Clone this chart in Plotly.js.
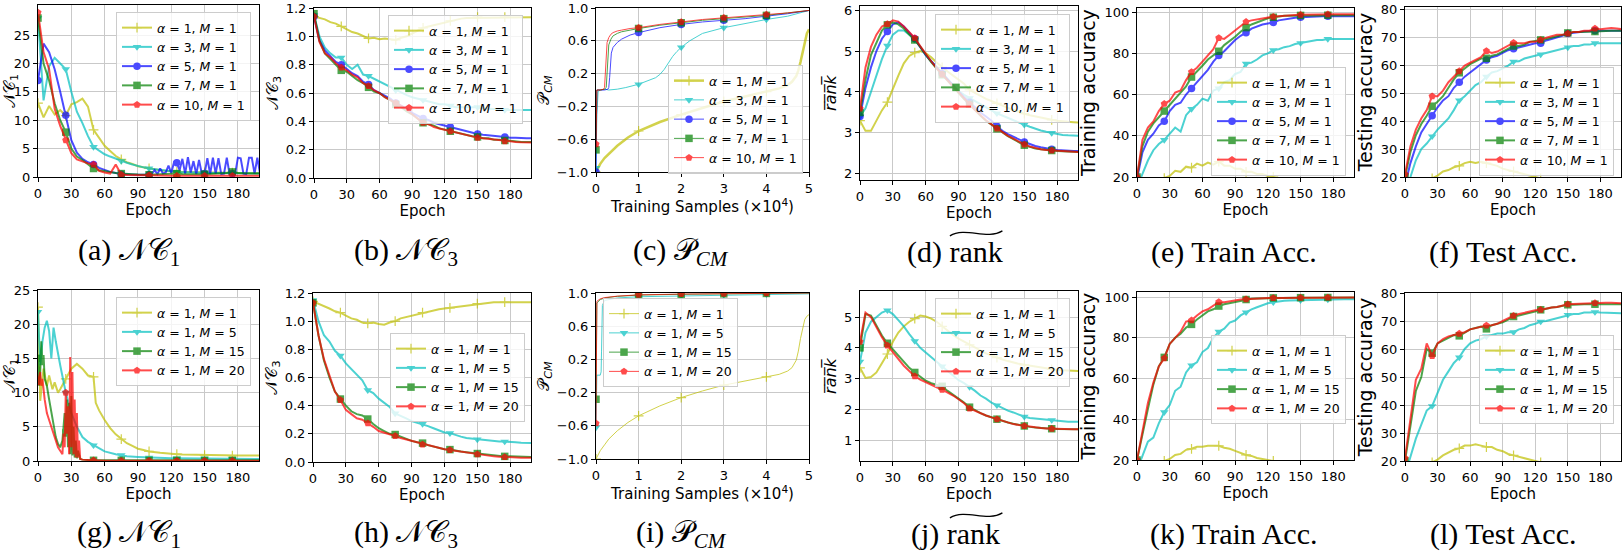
<!DOCTYPE html>
<html><head><meta charset="utf-8">
<script src="https://cdn.plot.ly/plotly-3.0.1.min.js"></script>
<style>html,body{margin:0;padding:0;background:#fff;}#chart{width:1623px;height:558px;}</style>
</head><body><div id="chart"></div>
<script>
// ---------------- DATA ----------------
const EPOCH = [0,5,10,15,20,25,30,35,40,45,50,55,60,65,70,75,80,85,90,95,100,105,110,115,120,125,130,135,140,145,150,155,160,165,170,175,180,185,190,195,200];
const EPOCH_TICKS = [0,30,60,90,120,150,180];
const SAMPLE_TICKS = [0,1,2,3,4,5];

const LEG_TOP = ['<i>α</i> = 1, <i>M</i> = 1','<i>α</i> = 3, <i>M</i> = 1','<i>α</i> = 5, <i>M</i> = 1','<i>α</i> = 7, <i>M</i> = 1','<i>α</i> = 10, <i>M</i> = 1'];
const LEG_BOT = ['<i>α</i> = 1, <i>M</i> = 1','<i>α</i> = 1, <i>M</i> = 5','<i>α</i> = 1, <i>M</i> = 15','<i>α</i> = 1, <i>M</i> = 20'];

// (a) NC1
const A_Y1 = [13.0,10.5,12.5,11.0,11.8,10.8,12.8,13.2,13.8,12.4,8.3,6.8,5.5,4.6,3.7,3.1,2.6,2.3,1.9,1.7,1.5,1.3,1.2,1.1,1.0,0.95,0.9,0.9,0.85,0.85,0.8,0.8,0.8,0.75,0.75,0.75,0.7,0.7,0.7,0.7,0.7];
const A_Y3 = [28.0,13.5,19.5,21.0,20.0,19.0,15.0,11.5,9.5,7.2,5.3,4.6,4.0,3.6,3.2,2.8,2.5,2.2,1.9,1.7,1.5,1.35,1.2,1.1,1.0,0.9,0.85,0.8,0.8,0.75,0.75,0.7,0.7,0.7,0.65,0.65,0.65,0.6,0.6,0.6,0.6];
const A_X5 = [0,5,10,15,20,25,30,35,40,45,50,55,60,65,70,75,80,85,90,95,100,102.5,105,107.5,110,112.5,115,117.5,120,122.5,125,127.5,130,132.5,135,137.5,140,142.5,145,147.5,150,152.5,155,157.5,160,162.5,165,167.5,170,172.5,175,177.5,180,182.5,185,187.5,190,192.5,195,197.5,200];
const A_Y5 = [17.0,23.5,22.0,19.0,15.0,10.9,6.5,4.3,3.2,2.6,2.2,1.6,1.2,0.9,0.7,0.5,0.5,0.4,0.4,0.4,0.4,
  0.6,1.2,0.5,1.5,0.6,0.8,2.0,0.7,2.6,2.5,1.2,3.2,0.6,3.5,0.8,2.8,0.5,3.0,0.6,0.6,3.3,0.5,3.4,0.6,3.3,0.5,0.6,3.4,0.5,0.6,0.5,3.4,3.3,0.6,0.5,3.4,3.4,0.6,3.4,0.5];
const A_Y7 = [28.0,20.0,17.0,13.0,10.0,7.9,5.0,3.6,3.0,2.3,1.5,1.2,1.0,0.8,0.7,0.6,0.5,0.5,0.45,0.4,0.4,0.45,0.5,0.5,0.55,0.6,0.55,0.5,0.5,0.5,0.5,0.55,0.6,0.6,0.7,0.9,0.7,0.65,0.6,0.6,0.6];
const A_Y10 = [29.0,22.0,19.0,12.0,9.0,6.5,4.2,3.1,2.7,2.4,2.2,1.1,0.8,0.6,2.2,0.4,0.35,0.3,0.3,0.3,0.3,0.25,0.25,0.25,0.2,0.2,0.2,0.2,0.2,0.2,0.2,0.2,0.2,0.2,0.2,0.2,0.2,0.2,0.2,0.2,0.2];
const A_TICKS = [0,5,10,15,20,25];

// (b) NC3
const B_Y1 = [1.14,1.13,1.12,1.10,1.09,1.07,1.05,1.03,1.02,1.0,0.985,0.99,0.98,0.985,0.98,0.975,0.99,1.0,1.02,1.04,1.06,1.07,1.08,1.09,1.1,1.11,1.12,1.125,1.13,1.13,1.135,1.135,1.135,1.135,1.135,1.135,1.135,1.135,1.135,1.135,1.135];
const B_Y3 = [1.15,1.0,0.92,0.88,0.85,0.85,0.80,0.77,0.80,0.73,0.72,0.70,0.68,0.66,0.64,0.62,0.60,0.585,0.57,0.56,0.55,0.54,0.53,0.52,0.52,0.51,0.50,0.50,0.50,0.50,0.50,0.49,0.49,0.49,0.485,0.48,0.48,0.48,0.48,0.48,0.48];
const B_Y5 = [1.14,0.97,0.90,0.86,0.82,0.80,0.77,0.74,0.72,0.68,0.66,0.62,0.60,0.58,0.56,0.53,0.51,0.49,0.46,0.44,0.42,0.41,0.39,0.38,0.37,0.36,0.345,0.335,0.33,0.32,0.31,0.305,0.30,0.295,0.29,0.29,0.285,0.285,0.28,0.28,0.28];
const B_Y7 = [1.16,0.97,0.88,0.84,0.80,0.76,0.75,0.72,0.69,0.67,0.64,0.61,0.60,0.57,0.55,0.52,0.50,0.47,0.45,0.42,0.39,0.38,0.37,0.35,0.34,0.33,0.32,0.31,0.30,0.295,0.29,0.28,0.28,0.27,0.27,0.265,0.26,0.26,0.255,0.255,0.255];
const B_Y10 = [1.14,0.96,0.88,0.85,0.81,0.78,0.76,0.73,0.71,0.67,0.65,0.62,0.60,0.57,0.55,0.53,0.51,0.48,0.45,0.42,0.39,0.38,0.36,0.35,0.34,0.33,0.32,0.31,0.30,0.29,0.285,0.28,0.275,0.27,0.265,0.26,0.258,0.255,0.252,0.25,0.25];
const B_TICKS = [0,0.2,0.4,0.6,0.8,1.0,1.2];

// (c) P_CM
const C_X1 = [0,0.05,0.1,0.2,0.3,0.5,0.75,1,1.5,2,2.5,3,3.5,4,4.3,4.5,4.6,4.7,4.75,4.8,4.85,4.9,4.95,5];
const C_Y1 = [-1.0,-0.95,-0.9,-0.83,-0.78,-0.68,-0.58,-0.5,-0.39,-0.3,-0.22,-0.14,-0.08,-0.02,0.02,0.06,0.1,0.17,0.24,0.34,0.46,0.6,0.69,0.74];
const C_X3 = [0,0.02,0.05,0.1,0.2,0.3,0.5,0.7,1,1.2,1.4,1.5,1.6,1.7,1.8,1.9,2,2.2,2.5,3,3.5,4,4.5,5];
const C_Y3 = [-0.95,-0.3,-0.02,0.0,0.01,0.0,0.01,0.03,0.07,0.11,0.15,0.19,0.25,0.33,0.41,0.47,0.52,0.6,0.69,0.76,0.81,0.86,0.9,0.97];
const C_X5 = [0,0.01,0.02,0.1,0.2,0.28,0.3,0.32,0.34,0.36,0.4,0.5,0.6,0.8,1,1.5,2,2.5,3,3.5,4,4.5,5];
const C_Y5 = [-1.0,-0.4,0.0,0.0,0.0,0.01,0.03,0.15,0.35,0.45,0.52,0.58,0.62,0.67,0.70,0.76,0.80,0.83,0.85,0.87,0.90,0.93,0.97];
const C_X7 = [0,0.01,0.02,0.1,0.2,0.24,0.26,0.28,0.3,0.35,0.4,0.5,0.6,0.8,1,1.5,2,2.5,3,3.5,4,4.5,5];
const C_Y7 = [-0.73,-0.3,0.0,0.0,0.01,0.03,0.2,0.45,0.55,0.62,0.66,0.69,0.71,0.73,0.75,0.79,0.82,0.85,0.87,0.89,0.91,0.94,0.97];
const C_X10 = [0,0.01,0.02,0.1,0.18,0.2,0.22,0.24,0.26,0.3,0.35,0.4,0.5,0.6,0.8,1,1.5,2,2.5,3,3.5,4,4.5,5];
const C_Y10 = [-0.66,-0.3,0.0,0.0,0.01,0.03,0.2,0.45,0.58,0.64,0.68,0.7,0.72,0.73,0.75,0.76,0.8,0.83,0.86,0.88,0.9,0.92,0.94,0.97];
const PCM_TICKS = [-1.0,-0.6,-0.2,0.2,0.6,1.0];

// (d) rank
const D_Y1 = [3.30,3.05,3.05,3.30,3.55,3.75,4.10,4.40,4.70,4.88,4.96,5.00,4.95,4.85,4.72,4.60,4.50,4.40,4.30,4.20,4.05,3.97,3.90,3.83,3.78,3.72,3.66,3.61,3.56,3.51,3.47,3.43,3.40,3.37,3.34,3.32,3.30,3.28,3.27,3.26,3.25];
const D_Y3 = [3.40,3.60,4.00,4.40,4.80,5.13,5.40,5.50,5.50,5.40,5.28,5.10,4.90,4.75,4.60,4.45,4.30,4.15,4.02,3.93,3.85,3.77,3.70,3.62,3.55,3.48,3.42,3.36,3.30,3.25,3.20,3.15,3.10,3.06,3.03,3.00,2.97,2.95,2.94,2.93,2.93];
const D_Y5 = [3.40,4.10,4.60,5.00,5.30,5.48,5.65,5.70,5.60,5.45,5.30,5.10,4.90,4.75,4.60,4.45,4.30,4.15,4.00,3.87,3.75,3.62,3.50,3.40,3.30,3.16,3.05,2.97,2.90,2.84,2.78,2.73,2.68,2.65,2.62,2.60,2.58,2.57,2.57,2.56,2.56];
const D_Y7 = [3.50,4.30,4.90,5.20,5.50,5.64,5.70,5.65,5.55,5.40,5.27,5.10,4.90,4.73,4.57,4.42,4.27,4.12,3.97,3.83,3.70,3.55,3.42,3.30,3.20,3.10,3.00,2.92,2.85,2.77,2.70,2.66,2.62,2.60,2.58,2.57,2.56,2.55,2.54,2.53,2.53];
const D_Y10 = [3.60,4.60,5.10,5.40,5.60,5.66,5.75,5.72,5.60,5.45,5.32,5.12,4.92,4.75,4.58,4.43,4.28,4.13,3.98,3.84,3.70,3.56,3.43,3.31,3.21,3.11,3.01,2.93,2.86,2.78,2.72,2.67,2.63,2.60,2.58,2.57,2.56,2.55,2.54,2.53,2.53];
const D_TICKS = [2,3,4,5,6];

// (e) training accuracy
const E_Y1 = [10,13,15,17,18.5,19.5,20.5,23,22.5,25,24.5,26.5,25.5,27,26,27.5,25.5,25.5,24,24,22.5,22.5,21.5,21.5,20.5,20,19,18.5,18,17.5,17,16.5,16,15.5,15,14.5,14,13.5,13,12.5,12];
const E_Y3 = [15,22,28,33,36,38,41,44,42,50,53,55,58,57,62,63,66,67,70,71,75,75.5,77,79,80,81.5,82,83,83.5,84.5,85,85.5,86,86.5,86.5,87,87,87,87,87,87];
const E_Y5 = [19,32,38,41,45,47,52,55,56,60,63,66,69,72,76,79,81,84,86.5,88.5,90,92,93,94,94.5,95,96,96.5,97,97.3,97.5,97.7,97.8,97.9,98,98,98,98,98,98,98];
const E_Y7 = [20,35,42,46,49,52,55,58,61,64,68.5,71,74,77,79,81,84,86,88,90.5,92.5,94,95,96,97,97.5,98,98.2,98.3,98.3,98.4,98.5,98.5,98.5,98.5,98.5,98.5,98.5,98.5,98.5,98.5];
const E_Y10 = [20,38,44,47,52,55.5,57,61,62,67,71,73,76,79,82,87.5,87,89,91,93,95.3,96,96.5,97,97.5,97.8,98,98.3,98.5,98.6,98.7,98.8,98.9,99,99,99,99,99,99,99,99];
const TRAIN_TICKS = [20,40,60,80,100];

// (f) testing accuracy
const F_Y1 = [10,13,15,17,18.5,19.5,20.5,22,22.5,23.5,24,25,25.5,25,25.5,25,24.5,24,23,22.5,22,21.5,21,20.5,20,19.5,19,18.5,18,17.5,17,16.5,16,15.5,15,14.5,14,13.5,13,12.5,12];
const F_Y3 = [15,20,26,30,32,34.6,37,39,41,44,47.5,49,51,53,54,56,57.5,58,59,60,61.4,61.5,62.5,63,63.5,64,64.5,65,65.5,66,66.5,67,67,67.5,67.5,68,68,68,68,68,68];
const F_Y5 = [17,25,31,36,39,42,45,47.5,49,52,54,56,57.5,59,60.5,62,63,63.5,64.5,65.5,66,66.5,67,67.5,68,68,69,69.5,70,70.7,71.5,71.8,72,72.2,72.3,72.5,72.5,72.5,72.5,72.5,72.5];
const F_Y7 = [20,29,35,39,42,45.4,47,49,52,55,57.4,59,60.5,61.5,62.5,62.6,63.5,64,65,66,67,67,67.5,68.5,68.8,69.2,69.5,70,70.5,71,71.7,72,72,72,72,72.2,72.3,72.5,72.5,72.5,72.5];
const F_Y10 = [21,31,37,41,44,49,49,51,54,56,58,60,61,62,63,65.2,64.5,65,66,67,68.2,68,68,68.5,68.5,69.2,70,70.5,71,71,71.5,72,72,72.5,72.5,73.3,73,73.2,73.5,73.3,73];
const TEST_TICKS = [20,30,40,50,60,70,80];

// (g) NC1, varying M
const G_X1 = [0,2,5,8,10,13,15,18,20,25,30,35,40,45,50,52,55,60,65,70,75,80,85,90,95,100,110,120,125,130,140,150,160,170,175,180,190,200];
const G_Y1 = [22.5,8.8,13.5,11.0,12.5,10.5,11.5,10.0,10.5,12.0,13.5,14.2,13.5,12.5,12.3,8.5,7.4,6.0,4.8,3.9,3.2,2.6,2.2,1.8,1.6,1.4,1.2,1.0,1.0,0.95,0.9,0.85,0.85,0.8,0.8,0.8,0.8,0.8];
const G_X5 = [0,2,4,6,8,10,12,14,16,18,20,25,30,35,40,45,50,55,60,70,75,80,90,100,110,120,125,130,140,150,160,170,175,180,190,200];
const G_Y5 = [21.8,14.0,17.5,19.5,20.5,19.0,15.0,19.5,17.5,16.0,14.0,10.0,7.0,5.0,3.5,2.8,2.3,1.8,1.4,1.0,0.85,0.7,0.6,0.5,0.45,0.4,0.4,0.4,0.35,0.35,0.3,0.3,0.3,0.3,0.3,0.3];
const G_X15 = [0,1,2,3,4,5,6,8,10,12,14,16,18,20,22,24,25,26,27,28,29,30,31,32,33,34,35,36,38,40,45,50,60,75,90,100,125,150,175,200];
const G_Y15 = [15.0,11.0,13.0,17.5,14.0,15.5,12.0,11.0,9.0,7.0,5.0,3.5,2.5,2.0,3.0,7.0,4.1,9.0,2.0,8.5,1.0,9.5,0.8,5.0,0.5,3.0,0.4,1.5,0.3,0.2,0.15,0.1,0.1,0.1,0.1,0.1,0.1,0.1,0.1,0.1];
const G_X20 = [0,1,2,3,4,6,8,10,12,14,16,18,20,22,23,24,25,26,27,28,29,30,31,32,33,34,35,36,37,38,40,45,50,60,75,90,100,125,150,175,200];
const G_Y20 = [11.5,12.5,13.0,11.0,12.0,9.0,7.0,6.0,5.0,4.0,3.0,2.0,1.5,1.0,4.0,2.0,10.0,4.0,8.0,1.0,15.2,2.0,13.0,1.0,9.0,0.5,7.0,0.5,3.0,0.3,0.2,0.1,0.1,0.05,0.05,0.05,0.05,0.05,0.05,0.05,0.05];

// (h) NC3, varying M
const H_Y1 = [1.14,1.125,1.11,1.09,1.07,1.06,1.04,1.02,1.01,0.99,0.985,0.99,0.98,0.975,0.99,1.0,1.02,1.03,1.04,1.05,1.06,1.07,1.08,1.085,1.09,1.095,1.1,1.11,1.115,1.12,1.125,1.13,1.135,1.135,1.135,1.135,1.135,1.135,1.135,1.135,1.135];
const H_Y5 = [1.15,1.0,0.9,0.855,0.79,0.755,0.70,0.66,0.62,0.58,0.51,0.49,0.45,0.42,0.39,0.345,0.33,0.31,0.29,0.28,0.27,0.255,0.24,0.225,0.21,0.205,0.19,0.18,0.17,0.165,0.16,0.155,0.15,0.148,0.145,0.145,0.14,0.14,0.137,0.135,0.135];
const H_Y15 = [1.13,0.90,0.72,0.60,0.50,0.447,0.40,0.36,0.34,0.33,0.305,0.27,0.24,0.22,0.20,0.195,0.18,0.16,0.15,0.14,0.134,0.12,0.11,0.10,0.09,0.088,0.08,0.075,0.07,0.065,0.06,0.055,0.05,0.048,0.045,0.04,0.04,0.038,0.036,0.035,0.035];
const H_Y20 = [1.13,0.90,0.73,0.62,0.50,0.44,0.37,0.34,0.31,0.30,0.276,0.25,0.22,0.21,0.20,0.185,0.17,0.16,0.15,0.14,0.125,0.12,0.11,0.10,0.09,0.086,0.08,0.072,0.065,0.06,0.055,0.05,0.045,0.04,0.038,0.035,0.033,0.032,0.03,0.03,0.03];

// (i) P_CM, varying M
const I_X1 = [0,0.05,0.1,0.2,0.3,0.5,0.75,1,1.5,2,2.5,3,3.5,4,4.3,4.5,4.6,4.7,4.75,4.8,4.85,4.9,4.95,5];
const I_Y1 = [-1.0,-0.95,-0.9,-0.83,-0.76,-0.66,-0.56,-0.48,-0.36,-0.26,-0.18,-0.11,-0.06,-0.01,0.02,0.06,0.1,0.19,0.3,0.45,0.58,0.68,0.72,0.74];
const I_X5 = [0,0.01,0.02,0.1,0.12,0.13,0.14,0.15,0.2,0.5,1,2,3,4,5];
const I_Y5 = [-0.62,-0.1,0.01,0.01,0.05,0.3,0.7,0.85,0.91,0.94,0.955,0.965,0.975,0.985,0.99];
const I_X15 = [0,0.01,0.02,0.1,0.2,0.5,1,2,3,4,5];
const I_Y15 = [-0.28,0.3,0.88,0.92,0.94,0.96,0.975,0.985,0.99,0.995,1.0];
const I_X20 = [0,0.01,0.02,0.1,0.2,0.5,1,2,3,4,5];
const I_Y20 = [-0.57,0.2,0.9,0.93,0.945,0.962,0.978,0.987,0.992,0.996,1.0];

// (j) rank, varying M
const J_Y1 = [3.35,3.02,3.05,3.2,3.5,3.8,4.2,4.5,4.7,4.85,4.95,5.05,5.02,4.95,4.85,4.7,4.55,4.42,4.3,4.2,4.1,4.0,3.9,3.82,3.75,3.68,3.62,3.57,3.52,3.48,3.45,3.42,3.38,3.35,3.32,3.3,3.28,3.27,3.26,3.25,3.25];
const J_Y5 = [3.55,4.5,4.85,5.0,5.15,5.22,5.1,4.9,4.7,4.45,4.22,4.0,3.85,3.7,3.55,3.4,3.25,3.1,2.95,2.85,2.73,2.6,2.45,2.35,2.22,2.13,2.03,1.96,1.9,1.83,1.76,1.72,1.7,1.68,1.66,1.65,1.63,1.62,1.6,1.6,1.6];
const J_Y15 = [4.0,5.1,5.05,4.7,4.4,4.15,3.95,3.75,3.55,3.35,3.2,3.05,2.93,2.85,2.8,2.75,2.6,2.48,2.35,2.22,2.07,1.97,1.88,1.8,1.74,1.68,1.62,1.57,1.53,1.49,1.46,1.43,1.41,1.39,1.38,1.37,1.36,1.36,1.35,1.35,1.35];
const J_Y20 = [4.2,5.15,5.0,4.65,4.35,4.08,3.85,3.62,3.42,3.25,3.08,2.97,2.88,2.8,2.72,2.64,2.55,2.45,2.33,2.2,2.03,1.95,1.87,1.8,1.74,1.68,1.62,1.57,1.52,1.49,1.46,1.43,1.41,1.39,1.38,1.37,1.36,1.35,1.35,1.35,1.35];
const J_TICKS = [1,2,3,4,5];

// (k) training accuracy, varying M
const K_Y1 = [10,13,15,17,18.5,19.5,20.5,22.5,23,25,25.5,26.5,26.5,27,27,27,26,25.5,24.5,23.5,22.5,22,21,20.5,20,19.5,19,18.5,18,17.5,17,16.5,16,15.5,15,14.5,14,13.5,13,12.5,12];
const K_Y5 = [15,22,29,31,38,43.5,47,54,56,63,66.5,68,73,75,80,83,84.5,87.5,88.5,91,92.5,94,95,96,97,97.5,98,98.2,98.3,98.4,98.5,98.6,98.7,98.7,98.8,98.8,98.9,98.9,99,99,99];
const K_Y15 = [20,33,45,57,66,70.4,77,80,82,85,86.6,89,91,93,94,95.6,96.5,97,97.5,98,98.8,99.2,99.3,99.4,99.5,99.6,99.6,99.6,99.7,99.7,99.7,99.7,99.7,99.8,99.8,99.8,99.8,99.8,99.8,99.8,99.8];
const K_Y20 = [20,35,48,58,66,70,77,80,83,88,88.6,91,93,94,96,97.6,97.5,98,98.5,98.8,99,99.2,99.3,99.4,99.5,99.6,99.6,99.7,99.7,99.7,99.7,99.8,99.8,99.8,99.8,99.8,99.8,99.8,99.8,99.8,99.8];

// (l) testing accuracy, varying M
const L_Y1 = [10,13,15,17,18.5,19.5,20.5,22,23,24,24.5,25.5,25.5,26,25.5,25,25,24,23.5,22.5,22,21.5,21,20.5,20,19.5,19,18.5,18,17.5,17,16.5,16,15.5,15,14.5,14,13.5,13,12.5,12];
const L_Y5 = [15,22,28,33,38,39.6,44,49,52,55,57,60,62,63,63.5,64.5,65,65.5,65.5,66,66,67,67.5,68.5,69,69.8,70,70.5,71,71.5,72.2,72.5,72.5,73,73,73.2,73,73,72.8,72.8,72.8];
const L_Y15 = [20,33,45,50,60,58.5,62,63,64,65,64.7,66,67,67.5,68,67.2,68.5,69,69.5,70.5,71.6,72,72.5,73,73.5,74,74.5,74.8,75,75.3,75.8,75.8,76,76,76,76,76,76,76,76,76];
const L_Y20 = [21,35,49,53,62,57.5,62,63.5,64.5,65,65.5,66,67,67.5,68,68.4,68.5,69,70,71,71.9,72.5,73,73.5,73.8,74,74.5,74.8,75,75.5,76,76.1,76.2,76.3,76.4,76.4,76.5,76.5,76.5,76.4,76.3];

// ---------------- STYLE / LAYOUT ----------------
const W = 1623, H = 558;
const CAP_FS = 30;
const STY = [
  {color:'#bfbf00', symbol:'cross-thin'},
  {color:'#00bfbf', symbol:'triangle-down'},
  {color:'#0000ff', symbol:'circle'},
  {color:'#008000', symbol:'square'},
  {color:'#ff0000', symbol:'pentagon'}
];
const NC1 = '𝒩𝒞<sub>1</sub>', NC3 = '𝒩𝒞<sub>3</sub>', PCM = '𝒫<sub><i>CM</i></sub>';
const RANK_T = '<i>r\u0305a\u0305n\u0305k\u0305</i>';
const SAMPLES_T = 'Training Samples (×10<sup>4</sup>)';
const CY_TOP = 252, CY_BOT = 534;

const panels = [
 {box:[38,5,259,177], xr:[0,199], yr:[0,30.3], xt:EPOCH_TICKS, yt:A_TICKS, yfmt:'', yt_title:NC1, ytfs:16, xt_title:'Epoch', kind:'epoch', lw:2,
  leg:[251,12,'right'], cap:[129,CY_TOP,'(a) '+NC1],
  series:[[EPOCH,A_Y1,0,LEG_TOP[0]],[EPOCH,A_Y3,1,LEG_TOP[1]],[A_X5,A_Y5,2,LEG_TOP[2]],[EPOCH,A_Y7,3,LEG_TOP[3]],[EPOCH,A_Y10,4,LEG_TOP[4]]]},
 {box:[314,8,531,178], xr:[0,199], yr:[0,1.2], xt:EPOCH_TICKS, yt:B_TICKS, yfmt:'.1f', yt_title:NC3, ytfs:16, xt_title:'Epoch', kind:'epoch', lw:2,
  leg:[523,15,'right'], cap:[406,CY_TOP,'(b) '+NC3],
  series:[[EPOCH,B_Y1,0,LEG_TOP[0]],[EPOCH,B_Y3,1,LEG_TOP[1]],[EPOCH,B_Y5,2,LEG_TOP[2]],[EPOCH,B_Y7,3,LEG_TOP[3]],[EPOCH,B_Y10,4,LEG_TOP[4]]]},
 {box:[596,8,809,172], xr:[0,5], yr:[-1,1], xt:SAMPLE_TICKS, yt:PCM_TICKS, yfmt:'.1f', yt_title:PCM, ytfs:16, xt_title:SAMPLES_T, kind:'samples', lw:1, lw0:2.5,
  leg:[803,65,'right'], cap:[681,CY_TOP,'(c) '+PCM],
  series:[[C_X1,C_Y1,0,LEG_TOP[0]],[C_X3,C_Y3,1,LEG_TOP[1]],[C_X5,C_Y5,2,LEG_TOP[2]],[C_X7,C_Y7,3,LEG_TOP[3]],[C_X10,C_Y10,4,LEG_TOP[4]]]},
 {box:[860,6,1078,180], xr:[0,199], yr:[1.85,6.1], xt:EPOCH_TICKS, yt:D_TICKS, yfmt:'', yt_title:RANK_T, ytfs:16, xt_title:'Epoch', kind:'epoch', lw:2,
  leg:[1070,14,'right'], cap:[955,CY_TOP,'(d) rank'], tilde:true,
  series:[[EPOCH,D_Y1,0,LEG_TOP[0]],[EPOCH,D_Y3,1,LEG_TOP[1]],[EPOCH,D_Y5,2,LEG_TOP[2]],[EPOCH,D_Y7,3,LEG_TOP[3]],[EPOCH,D_Y10,4,LEG_TOP[4]]]},
 {box:[1137,8,1354,177], xr:[0,199], yr:[20,102], xt:EPOCH_TICKS, yt:TRAIN_TICKS, yfmt:'', yt_title:'Training accuracy', ytfs:19, xt_title:'Epoch', kind:'epoch', lw:2,
  leg:[1346,67,'right'], cap:[1234,CY_TOP,'(e) Train Acc.'],
  series:[[EPOCH,E_Y1,0,LEG_TOP[0]],[EPOCH,E_Y3,1,LEG_TOP[1]],[EPOCH,E_Y5,2,LEG_TOP[2]],[EPOCH,E_Y7,3,LEG_TOP[3]],[EPOCH,E_Y10,4,LEG_TOP[4]]]},
 {box:[1405,7,1621,177], xr:[0,199], yr:[20,81], xt:EPOCH_TICKS, yt:TEST_TICKS, yfmt:'', yt_title:'Testing accuracy', ytfs:19, xt_title:'Epoch', kind:'epoch', lw:2,
  leg:[1614,67,'right'], cap:[1503,CY_TOP,'(f) Test Acc.'],
  series:[[EPOCH,F_Y1,0,LEG_TOP[0]],[EPOCH,F_Y3,1,LEG_TOP[1]],[EPOCH,F_Y5,2,LEG_TOP[2]],[EPOCH,F_Y7,3,LEG_TOP[3]],[EPOCH,F_Y10,4,LEG_TOP[4]]]},
 {box:[38,290,259,461], xr:[0,199], yr:[0,25], xt:EPOCH_TICKS, yt:A_TICKS, yfmt:'', yt_title:NC1, ytfs:16, xt_title:'Epoch', kind:'epoch', lw:2,
  leg:[251,297,'right'], cap:[129,CY_BOT,'(g) '+NC1],
  series:[[G_X1,G_Y1,0,LEG_BOT[0]],[G_X5,G_Y5,1,LEG_BOT[1]],[G_X15,G_Y15,3,LEG_BOT[2]],[G_X20,G_Y20,4,LEG_BOT[3]]]},
 {box:[313,293,531,462], xr:[0,199], yr:[0,1.2], xt:EPOCH_TICKS, yt:B_TICKS, yfmt:'.1f', yt_title:NC3, ytfs:16, xt_title:'Epoch', kind:'epoch', lw:2,
  leg:[525,333,'right'], cap:[406,CY_BOT,'(h) '+NC3],
  series:[[EPOCH,H_Y1,0,LEG_BOT[0]],[EPOCH,H_Y5,1,LEG_BOT[1]],[EPOCH,H_Y15,3,LEG_BOT[2]],[EPOCH,H_Y20,4,LEG_BOT[3]]]},
 {box:[596,293,809,459], xr:[0,5], yr:[-1,1], xt:SAMPLE_TICKS, yt:PCM_TICKS, yfmt:'.1f', yt_title:PCM, ytfs:16, xt_title:SAMPLES_T, kind:'samples', lw:1,
  leg:[603,298,'left'], cap:[681,CY_BOT,'(i) '+PCM],
  series:[[I_X1,I_Y1,0,LEG_BOT[0]],[I_X5,I_Y5,1,LEG_BOT[1]],[I_X15,I_Y15,3,LEG_BOT[2]],[I_X20,I_Y20,4,LEG_BOT[3]]]},
 {box:[860,291,1078,461], xr:[0,199], yr:[0.32,5.85], xt:EPOCH_TICKS, yt:J_TICKS, yfmt:'', yt_title:RANK_T, ytfs:16, xt_title:'Epoch', kind:'epoch', lw:2,
  leg:[1070,298,'right'], cap:[955,CY_BOT,'(j) rank'], tilde:true,
  series:[[EPOCH,J_Y1,0,LEG_BOT[0]],[EPOCH,J_Y5,1,LEG_BOT[1]],[EPOCH,J_Y15,3,LEG_BOT[2]],[EPOCH,J_Y20,4,LEG_BOT[3]]]},
 {box:[1137,292,1354,460], xr:[0,199], yr:[20,102.5], xt:EPOCH_TICKS, yt:TRAIN_TICKS, yfmt:'', yt_title:'Training accuracy', ytfs:19, xt_title:'Epoch', kind:'epoch', lw:2,
  leg:[1346,335,'right'], cap:[1234,CY_BOT,'(k) Train Acc.'],
  series:[[EPOCH,K_Y1,0,LEG_BOT[0]],[EPOCH,K_Y5,1,LEG_BOT[1]],[EPOCH,K_Y15,3,LEG_BOT[2]],[EPOCH,K_Y20,4,LEG_BOT[3]]]},
 {box:[1405,293,1621,461], xr:[0,199], yr:[20,80], xt:EPOCH_TICKS, yt:TEST_TICKS, yfmt:'', yt_title:'Testing accuracy', ytfs:19, xt_title:'Epoch', kind:'epoch', lw:2,
  leg:[1614,335,'right'], cap:[1503,CY_BOT,'(l) Test Acc.'],
  series:[[EPOCH,L_Y1,0,LEG_BOT[0]],[EPOCH,L_Y5,1,LEG_BOT[1]],[EPOCH,L_Y15,3,LEG_BOT[2]],[EPOCH,L_Y20,4,LEG_BOT[3]]]}
];

const px = v => v / W;
const py = v => 1 - v / H;
function markIdx(xs, kind){
  const out = [];
  xs.forEach((v,i) => {
    const ok = kind === 'epoch' ? (v % 25 === 0 && v < 199) : (Number.isInteger(v) && v < 5);
    if (ok) out.push(i);
  });
  return out;
}

const traces = [];
const layout = {
  width: W, height: H, margin:{l:0,r:0,t:0,b:0},
  paper_bgcolor:'#fff', plot_bgcolor:'#fff', showlegend:true,
  annotations:[], shapes:[]
};
const TICKFONT = {family:'DejaVu Sans', size:13, color:'#000'};

panels.forEach((p, k) => {
  const sfx = k === 0 ? '' : String(k+1);
  const axCommon = {
    showline:true, linecolor:'#000', linewidth:1, mirror:true,
    ticks:'outside', ticklen:4, tickwidth:1, tickcolor:'#000',
    showgrid:true, gridcolor:'#c9c9c9', gridwidth:1, zeroline:false,
    tickfont:TICKFONT, tickmode:'array', fixedrange:true
  };
  layout['xaxis'+sfx] = Object.assign({}, axCommon, {
    domain:[px(p.box[0]), px(p.box[2])], range:p.xr, anchor:'y'+sfx, tickvals:p.xt,
    title:{text:p.xt_title, font:{family:'DejaVu Sans', size:15, color:'#000'}, standoff:1}
  });
  layout['yaxis'+sfx] = Object.assign({}, axCommon, {
    domain:[py(p.box[3]), py(p.box[1])], range:p.yr, anchor:'x'+sfx, tickvals:p.yt, tickformat:p.yfmt,
    title:{text:p.yt_title, font:{family:'DejaVu Sans', size:p.ytfs, color:'#000'}, standoff:3}
  });
  const legKey = 'legend' + sfx;
  layout[legKey] = {
    x: px(p.leg[0]), y: py(p.leg[1]), xanchor:p.leg[2], yanchor:'top',
    bgcolor:'rgba(255,255,255,0.8)', bordercolor:'#cccccc', borderwidth:1,
    font:{family:'DejaVu Sans', size:12.5, color:'#000'}, itemwidth:30, tracegroupgap:0
  };
  p.series.forEach(s => {
    const st = STY[s[2]];
    const isCross = st.symbol === 'cross-thin';
    const lw = (s[2] === 0 && p.lw0) ? p.lw0 : p.lw;
    traces.push({
      type:'scatter', mode:'lines+markers', x:s[0], y:s[1], name:s[3],
      xaxis:'x'+sfx, yaxis:'y'+sfx, legend:legKey,
      opacity:0.7,
      line:{color:st.color, width:lw},
      marker:{symbol:st.symbol, size: isCross ? 7 : 7.5, color:st.color,
              line:{width: isCross ? 1.2 : 0, color:st.color}},
      selectedpoints: markIdx(s[0], p.kind),
      selected:{marker:{opacity:1}},
      unselected:{marker:{opacity:0}},
      hoverinfo:'skip'
    });
  });
  layout.annotations.push({
    xref:'paper', yref:'paper', x:px(p.cap[0]), y:py(p.cap[1]), xanchor:'center', yanchor:'middle',
    text:p.cap[2], showarrow:false, font:{family:'Liberation Serif', size:CAP_FS, color:'#000'}
  });
  if (p.tilde) {
    const L = p.cap[0] - 0.17*CAP_FS, R = p.cap[0] + 1.58*CAP_FS, yc = p.cap[1] - 0.62*CAP_FS;
    const path = 'M' + px(L) + ',' + py(yc+2.5) +
      ' C' + px(L + (R-L)*0.3) + ',' + py(yc-7) + ' ' + px(L + (R-L)*0.7) + ',' + py(yc+7) + ' ' + px(R) + ',' + py(yc-2.5);
    layout.shapes.push({type:'path', xref:'paper', yref:'paper', path:path, line:{color:'#000', width:1.3}});
  }
});

Plotly.newPlot('chart', traces, layout, {displayModeBar:false, staticPlot:true});
</script></body></html>
